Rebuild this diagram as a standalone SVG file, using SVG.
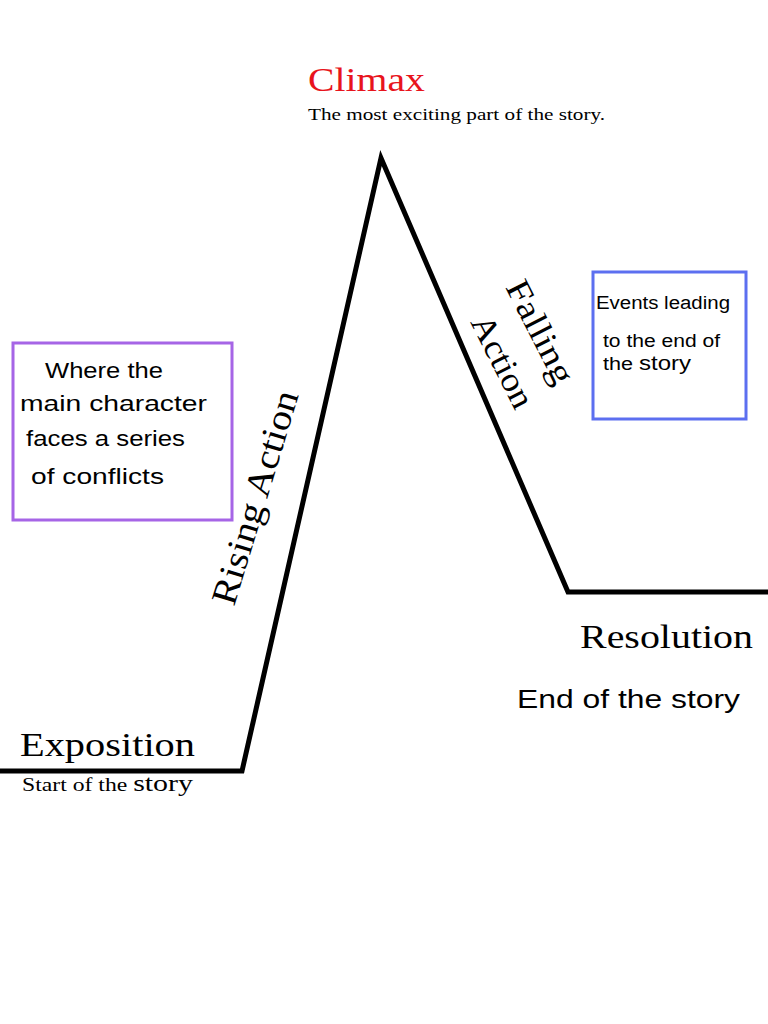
<svg xmlns="http://www.w3.org/2000/svg" width="768" height="1024" viewBox="0 0 768 1024">
<style>
.s{font-family:"Liberation Serif",serif;fill:#000}
.a{font-family:"Liberation Sans",Arial,sans-serif;fill:#000}
</style>
<rect width="768" height="1024" fill="#fff"/>
<g id="connectors">
<polyline points="0,771 242,771 381,158 568,592 768,592" fill="none" stroke="#000" stroke-width="5" stroke-linejoin="miter"/>
</g>
<g id="climax">
<text class="s" x="308" y="91" font-size="33" textLength="117" lengthAdjust="spacingAndGlyphs" style="fill:#e8141c">Climax</text>
<text class="s" x="308" y="120" font-size="17" textLength="297" lengthAdjust="spacingAndGlyphs">The most exciting part of the story.</text>
</g>
<g id="rising">
<text class="s" font-size="36" transform="translate(234,607) rotate(-73)" textLength="222" lengthAdjust="spacingAndGlyphs">Rising  Action</text>
</g>
<g id="falling">
<text class="s" font-size="34" transform="translate(505,287) rotate(63)" textLength="112" lengthAdjust="spacingAndGlyphs">Falling</text>
<text class="s" font-size="34" transform="translate(470,322) rotate(63)" textLength="100" lengthAdjust="spacingAndGlyphs">Action</text>
</g>
<g id="exposition">
<text class="s" x="20" y="756" font-size="34" textLength="175" lengthAdjust="spacingAndGlyphs">Exposition</text>
<text class="s" x="22" y="791" font-size="19" textLength="171" lengthAdjust="spacingAndGlyphs">Start of the <tspan font-size="24">story</tspan></text>
</g>
<g id="resolution">
<text class="s" x="580" y="648" font-size="34" textLength="173" lengthAdjust="spacingAndGlyphs">Resolution</text>
<text class="a" x="517" y="708" font-size="26" textLength="223" lengthAdjust="spacingAndGlyphs">End of the story</text>
</g>
<g id="box-rising">
<rect x="13" y="343" width="219" height="177" fill="none" stroke="#a665e6" stroke-width="3"/>
<text class="a" x="45" y="378" font-size="22" textLength="118" lengthAdjust="spacingAndGlyphs">Where the</text>
<text class="a" x="20" y="411" font-size="22" textLength="187" lengthAdjust="spacingAndGlyphs">main character</text>
<text class="a" x="26" y="446" font-size="22" textLength="159" lengthAdjust="spacingAndGlyphs">faces a series</text>
<text class="a" x="31" y="484" font-size="22" textLength="133" lengthAdjust="spacingAndGlyphs">of conflicts</text>
</g>
<g id="box-falling">
<rect x="593" y="272" width="153" height="147" fill="none" stroke="#5c6ff0" stroke-width="3"/>
<text class="a" x="596" y="309" font-size="18" textLength="134" lengthAdjust="spacingAndGlyphs">Events leading</text>
<text class="a" x="603" y="347" font-size="18" textLength="117" lengthAdjust="spacingAndGlyphs">to the end of</text>
<text class="a" x="603" y="370" font-size="18" textLength="88" lengthAdjust="spacingAndGlyphs">the <tspan font-size="20">story</tspan></text>
</g>
</svg>
